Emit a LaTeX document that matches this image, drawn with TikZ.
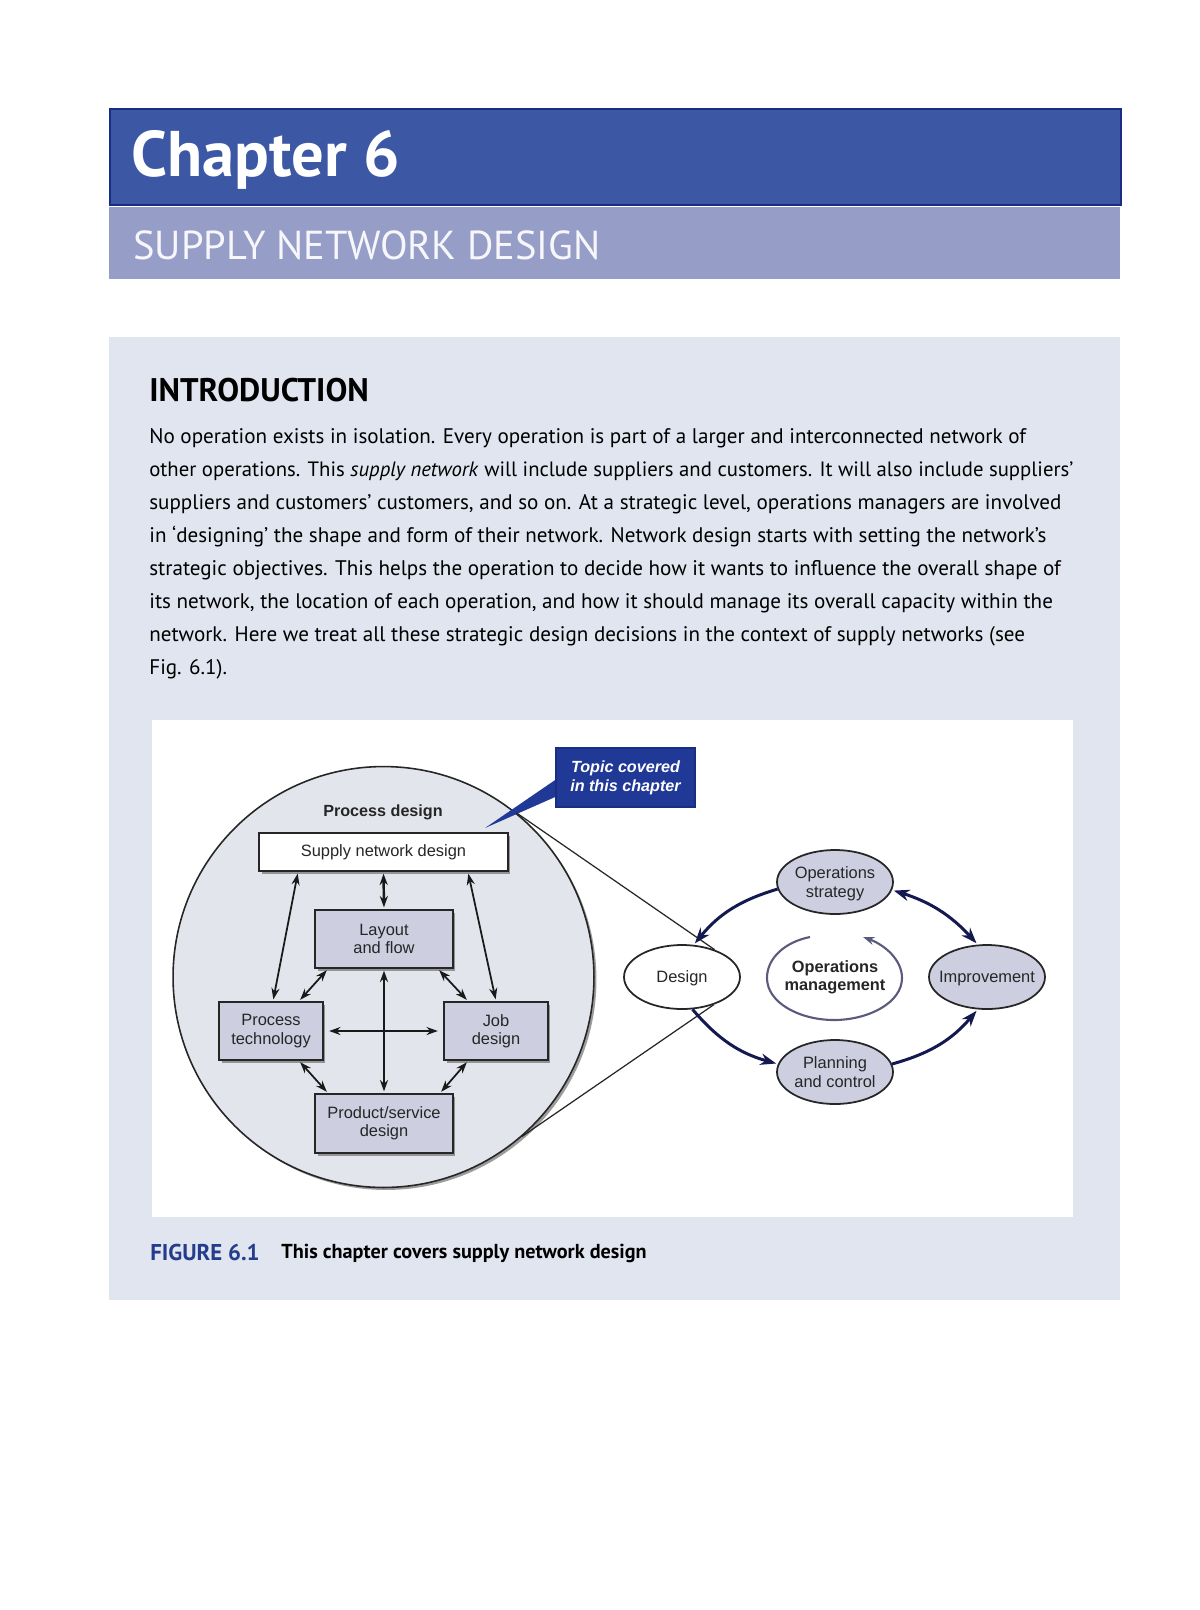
\documentclass[tikz,border=0pt]{standalone}
\usepackage{fontspec}
\setmainfont{PT Sans}
\newfontfamily\figfont{Liberation Sans}
\usetikzlibrary{shapes.geometric,shadows,arrows.meta}
\definecolor{barblue}{RGB}{60,88,165}
\definecolor{barline}{RGB}{25,45,130}
\definecolor{barpale}{RGB}{150,158,200}
\definecolor{panelgrey}{RGB}{224,229,240}
\definecolor{circlegrey}{RGB}{227,229,236}
\definecolor{boxgrey}{RGB}{205,207,225}
\definecolor{navy}{RGB}{20,25,80}
\definecolor{calloutblue}{RGB}{32,56,150}
\definecolor{capblue}{RGB}{35,60,140}
\definecolor{cyclegrey}{RGB}{90,90,125}
\begin{document}
\begin{tikzpicture}[x=.02cm,y=-.02cm,>={Stealth[length=6.5pt,width=4.6pt]}]
  \tikzstyle{bodyline}=[anchor=west,inner sep=0pt,font=\fontsize{12}{14}\selectfont]
  \tikzstyle{figtext}=[align=center,text=black!85,font=\figfont\fontsize{9.35}{10.5}\selectfont]
  \tikzstyle{shade}=[drop shadow={shadow xshift=.05cm,shadow yshift=-.05cm,fill=black!55,opacity=.7}]
  \tikzstyle{stagebox}=[figtext,rectangle,draw=black!85,line width=1pt,fill=boxgrey,inner sep=0pt,shade]
  \tikzstyle{stageoval}=[figtext,ellipse,draw=black!85,line width=1pt,fill=boxgrey,inner sep=-.2cm,minimum width=2.32cm,minimum height=1.28cm,text depth=0pt]
  \tikzstyle{link}=[black!90,line width=1pt,<->,shorten >=1pt,shorten <=1pt]
  \tikzstyle{cyclearrow}=[navy,line width=1.7pt,shorten >=1pt,>={Stealth[length=9pt,width=6.5pt]}]
  \useasboundingbox (0,0) rectangle (1200,1610);
  \fill[white] (0,0) rectangle (1200,1610);

  \node[rectangle,fill=barblue,draw=barline,line width=1pt,minimum width=20.22cm,minimum height=1.92cm,anchor=north west] (T_chapter) at (109,108) {};
  \node[rectangle,fill=barpale,minimum width=20.22cm,minimum height=1.44cm,anchor=north west] (T_sub) at (109,207) {};
  \node[rectangle,fill=panelgrey,minimum width=20.22cm,minimum height=19.26cm,anchor=north west] (T_panel) at (109,337) {};
  \node[rectangle,fill=white,minimum width=18.42cm,minimum height=9.94cm,anchor=north west] (T_figure) at (152,720) {};

  \node[anchor=west,inner sep=0pt,text=white,font=\fontsize{36.7}{40}\selectfont\bfseries] (T_ch) at (131,160) {Chapter 6};
  \node[anchor=west,inner sep=0pt,text=white!92!barpale,font=\fontsize{23}{26}\selectfont] (T_su) at (133,245) {SUPPLY NETWORK DESIGN};
  \node[anchor=west,inner sep=0pt,font=\fontsize{18.6}{21}\selectfont\bfseries] (T_in) at (149,390) {INTRODUCTION};

  \node[bodyline] (L_1) at (149,438) {No operation exists in isolation. Every operation is part of a larger and interconnected network of};
  \node[bodyline,font=\fontsize{11.8}{14}\selectfont] (L_2) at (149,471) {other operations. This \textit{supply network} will include suppliers and customers. It will also include suppliers’};
  \node[bodyline] (L_3) at (149,504) {suppliers and customers’ customers, and so on. At a strategic level, operations managers are involved};
  \node[bodyline] (L_4) at (149,537) {in ‘designing’ the shape and form of their network. Network design starts with setting the network’s};
  \node[bodyline] (L_5) at (149,570) {strategic objectives. This helps the operation to decide how it wants to influence the overall shape of};
  \node[bodyline] (L_6) at (149,603) {its network, the location of each operation, and how it should manage its overall capacity within the};
  \node[bodyline] (L_7) at (149,636) {network. Here we treat all these strategic design decisions in the context of supply networks (see};
  \node[bodyline] (L_8) at (149,669) {Fig. 6.1).};

  \node[anchor=west,inner sep=0pt,text=capblue,font=\fontsize{13}{15}\selectfont\bfseries] (C_fig) at (150,1252) {FIGURE 6.1};
  \node[anchor=west,inner sep=0pt,font=\fontsize{11.5}{14}\selectfont\bfseries] (C_text) at (281,1253.5) {This chapter covers supply network design};

  \node[circle,draw=black!85,line width=.9pt,fill=circlegrey,minimum size=8.42cm,inner sep=0pt,shade] (G_process) at (383.5,977) {};
  \node[figtext,font=\figfont\fontsize{9.2}{11}\selectfont\bfseries] (G_title) at (383,812) {Process design};

  \node[stagebox,fill=white,minimum width=4.98cm,minimum height=.76cm] (G_supply) at (383.5,852) {Supply network design};
  \node[stagebox,minimum width=2.76cm,minimum height=1.16cm] (G_layout) at (384,939) {Layout\\and flow};
  \node[stagebox,minimum width=2.08cm,minimum height=1.16cm] (G_tech) at (271,1031) {Process\\technology};
  \node[stagebox,minimum width=2.08cm,minimum height=1.16cm] (G_job) at (496,1031) {Job\\design};
  \node[stagebox,minimum width=2.76cm,minimum height=1.18cm] (G_product) at (384,1123.5) {Product/service\\design};

  \draw[link] ([xshift=-1.71cm]G_supply.south) -- ([xshift=.04cm]G_tech.north);
  \draw[link] ([xshift=1.69cm]G_supply.south) -- ([xshift=0cm]G_job.north);
  \draw[link,line width=1.4pt] (G_supply.south) -- (G_layout.north);
  \draw[link] ([xshift=-1.12cm]G_layout.south) -- ([xshift=.56cm]G_tech.north);
  \draw[link] ([xshift=1.08cm]G_layout.south) -- ([xshift=-.56cm]G_job.north);
  \draw[link] ([xshift=.56cm]G_tech.south) -- ([xshift=-1.12cm]G_product.north);
  \draw[link] ([xshift=-.56cm]G_job.south) -- ([xshift=1.12cm]G_product.north);
  \draw[link,line width=.7pt,shorten >=3pt,shorten <=3pt] (G_tech.east) -- (G_job.west);
  \draw[link,line width=1.4pt] (G_layout.south) -- (G_product.north);

  \node[rectangle,fill=calloutblue,draw=barline,line width=1pt,minimum width=2.78cm,minimum height=1.18cm,inner sep=0pt,align=center,text=white,font=\figfont\fontsize{9.2}{10.8}\selectfont\bfseries\itshape] (G_topic) at (625.5,777.5) {Topic covered\\in this chapter};
  \coordinate (G_tip) at (485,828);
  \fill[calloutblue] ([yshift=-.05cm]G_topic.west) -- ([yshift=-.39cm]G_topic.west) -- (G_tip) -- cycle;

  \node[stageoval,fill=white] (G_design) at (682,977) {Design};
  \node[stageoval] (G_strategy) at (835,882) {Operations\\strategy};
  \node[stageoval] (G_improve) at (987,977) {Improvement};
  \node[stageoval] (G_plan) at (835,1072) {Planning\\and control};

  \draw[black!85,line width=.7pt] (G_process.51) -- (G_design.40);
  \draw[black!85,line width=.7pt] (G_process.311) -- (G_design.319);

  \draw[cyclearrow,->] (G_strategy.187) to[bend right=17] (G_design.70);
  \draw[cyclearrow,<->,shorten <=1pt] (G_strategy.352) to[bend left=15] (G_improve.106);
  \draw[cyclearrow,->] (G_design.288) to[bend right=17] (G_plan.172);
  \draw[cyclearrow,->] (G_plan.8) to[bend right=17] (G_improve.254);

  \node[figtext,font=\figfont\fontsize{9.3}{10.3}\selectfont\bfseries] (G_om) at (835,977) {Operations\\management};
  \coordinate (G_ca) at (810,937);
  \coordinate (G_cl) at (767,978);
  \coordinate (G_cb) at (834,1020);
  \coordinate (G_cr) at (902,978);
  \coordinate (G_cc) at (863,937);
  \draw[cyclegrey,line width=1.2pt,->] (G_ca) .. controls (785,942) and (767,958) .. (G_cl) .. controls (767,1003) and (800,1020) .. (G_cb) .. controls (868,1020) and (902,1003) .. (G_cr) .. controls (902,960) and (885,945) .. (G_cc);
\end{tikzpicture}
\end{document}
